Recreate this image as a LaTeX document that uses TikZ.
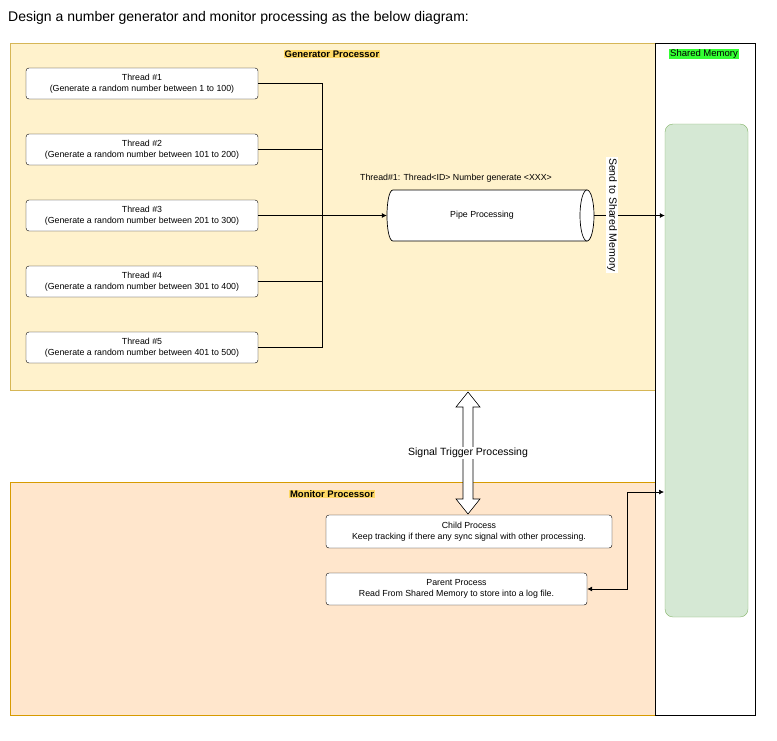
\documentclass[tikz,border=0pt]{standalone}
\usepackage{fontspec}
\setmainfont{Liberation Sans}
\usetikzlibrary{shapes.geometric,arrows.meta}
\definecolor{genfill}{HTML}{FFF2CC}\definecolor{gendraw}{HTML}{D6B656}
\definecolor{monfill}{HTML}{FFE6CC}\definecolor{mondraw}{HTML}{D79B00}
\definecolor{memfill}{HTML}{D5E8D4}\definecolor{memdraw}{HTML}{82B366}
\definecolor{hlyel}{HTML}{FFD966}\definecolor{hlgreen}{HTML}{33FF33}
\begin{document}
\begin{tikzpicture}[x=1pt,y=-1pt,
  thr/.style={draw,rounded corners=3pt,fill=white,minimum width=232pt,minimum height=31pt,align=center,font=\fontsize{8.8}{11}\selectfont,inner sep=1pt},
  proc/.style={draw,rounded corners=3pt,fill=white,minimum height=33pt,align=center,font=\fontsize{8.8}{11}\selectfont,inner sep=1pt},
  lbl/.style={font=\fontsize{8.8}{11}\selectfont},
  hl/.style={font=\bfseries\fontsize{9.5}{11}\selectfont,inner sep=1pt},
  ln/.style={line width=0.7pt},
  arr/.style={ln,-{Latex[length=5pt,width=5pt]}}]
\useasboundingbox (0,0) rectangle (777,740);
\node[anchor=west,font=\fontsize{14}{16}\selectfont,inner sep=0pt] (title) at (8,18) {Design a number generator and monitor processing as the below diagram:};
\draw[gendraw,fill=genfill] (10,43) rectangle (655,390);
\draw[mondraw,fill=monfill] (10,482) rectangle (655,715);
\draw[black,fill=white] (655,43) rectangle (755,715);
\node[hl,fill=hlgreen,font=\fontsize{9.5}{11}\selectfont] (smlbl) at (704,54) {Shared Memory};
\node[draw=memdraw,fill=memfill,rounded corners=8pt,minimum width=83pt,minimum height=493pt,inner sep=0pt] (mem) at (706.5,370.5) {};
\node[hl,fill=hlyel] (genlbl) at (332,54) {Generator Processor};
\node[hl,fill=hlyel] (monlbl) at (332,494) {Monitor Processor};
\node[thr] (t1) at (142,83.5) {Thread \#1\\(Generate a random number between 1 to 100)};
\node[thr] (t2) at (142,149.5) {Thread \#2\\(Generate a random number between 101 to 200)};
\node[thr] (t3) at (142,215.5) {Thread \#3\\(Generate a random number between 201 to 300)};
\node[thr] (t4) at (142,281.5) {Thread \#4\\(Generate a random number between 301 to 400)};
\node[thr] (t5) at (142,347.5) {Thread \#5\\(Generate a random number between 401 to 500)};
\node[minimum width=207pt,minimum height=51pt,inner sep=0pt] (pipe) at (490.5,215.5) {};
\draw[ln,fill=white] (393,190) -- (587,190) -- (587,241) -- (393,241) .. controls (385,241) and (385,190) .. (393,190) -- cycle;
\draw[ln,fill=white] (587,215.5) ellipse[x radius=7,y radius=25.5];
\node[lbl] (pipetxt) at (482,215.5) {Pipe Processing};
\node[lbl] (pipelbl) at (456,178) {Thread\#1: Thread<ID> Number generate <XXX>};
\coordinate (j) at (322,215.5);
\foreach \t in {t1,t2,t4,t5} \draw[ln] (\t.east) -| (j);
\draw[arr] (t3.east) -- (pipe.west);
\draw[arr] (pipe.east) -- (mem.west |- pipe.east);
\node[fill=white,rotate=-90,font=\fontsize{10.5}{12}\selectfont,inner sep=1pt] (sendlbl) at (612,215) {Send to Shared Memory};
\node[proc,minimum width=286pt] (child) at (469,531.5) {Child Process\\Keep tracking if there any sync signal with other processing.};
\node[proc,minimum width=261pt,minimum height=32pt] (parent) at (456.5,589) {Parent Process\\Read From Shared Memory to store into a log file.};
\draw[fill=white,line width=0.6pt] (468,392) -- (480,407) -- (473,407) -- (473,499) -- (480,499) -- (468,514) -- (456,499) -- (463,499) -- (463,407) -- (456,407) -- cycle;
\node[fill=white,font=\fontsize{10.5}{12}\selectfont,inner sep=1pt] (sig) at (468,453) {Signal Trigger Processing};
\coordinate (m1) at (664,492);
\draw[ln,{Latex[length=5pt,width=5pt]}-{Latex[length=5pt,width=5pt]}] (m1) -- (627,492) |- (parent.east);
\end{tikzpicture}
\end{document}
